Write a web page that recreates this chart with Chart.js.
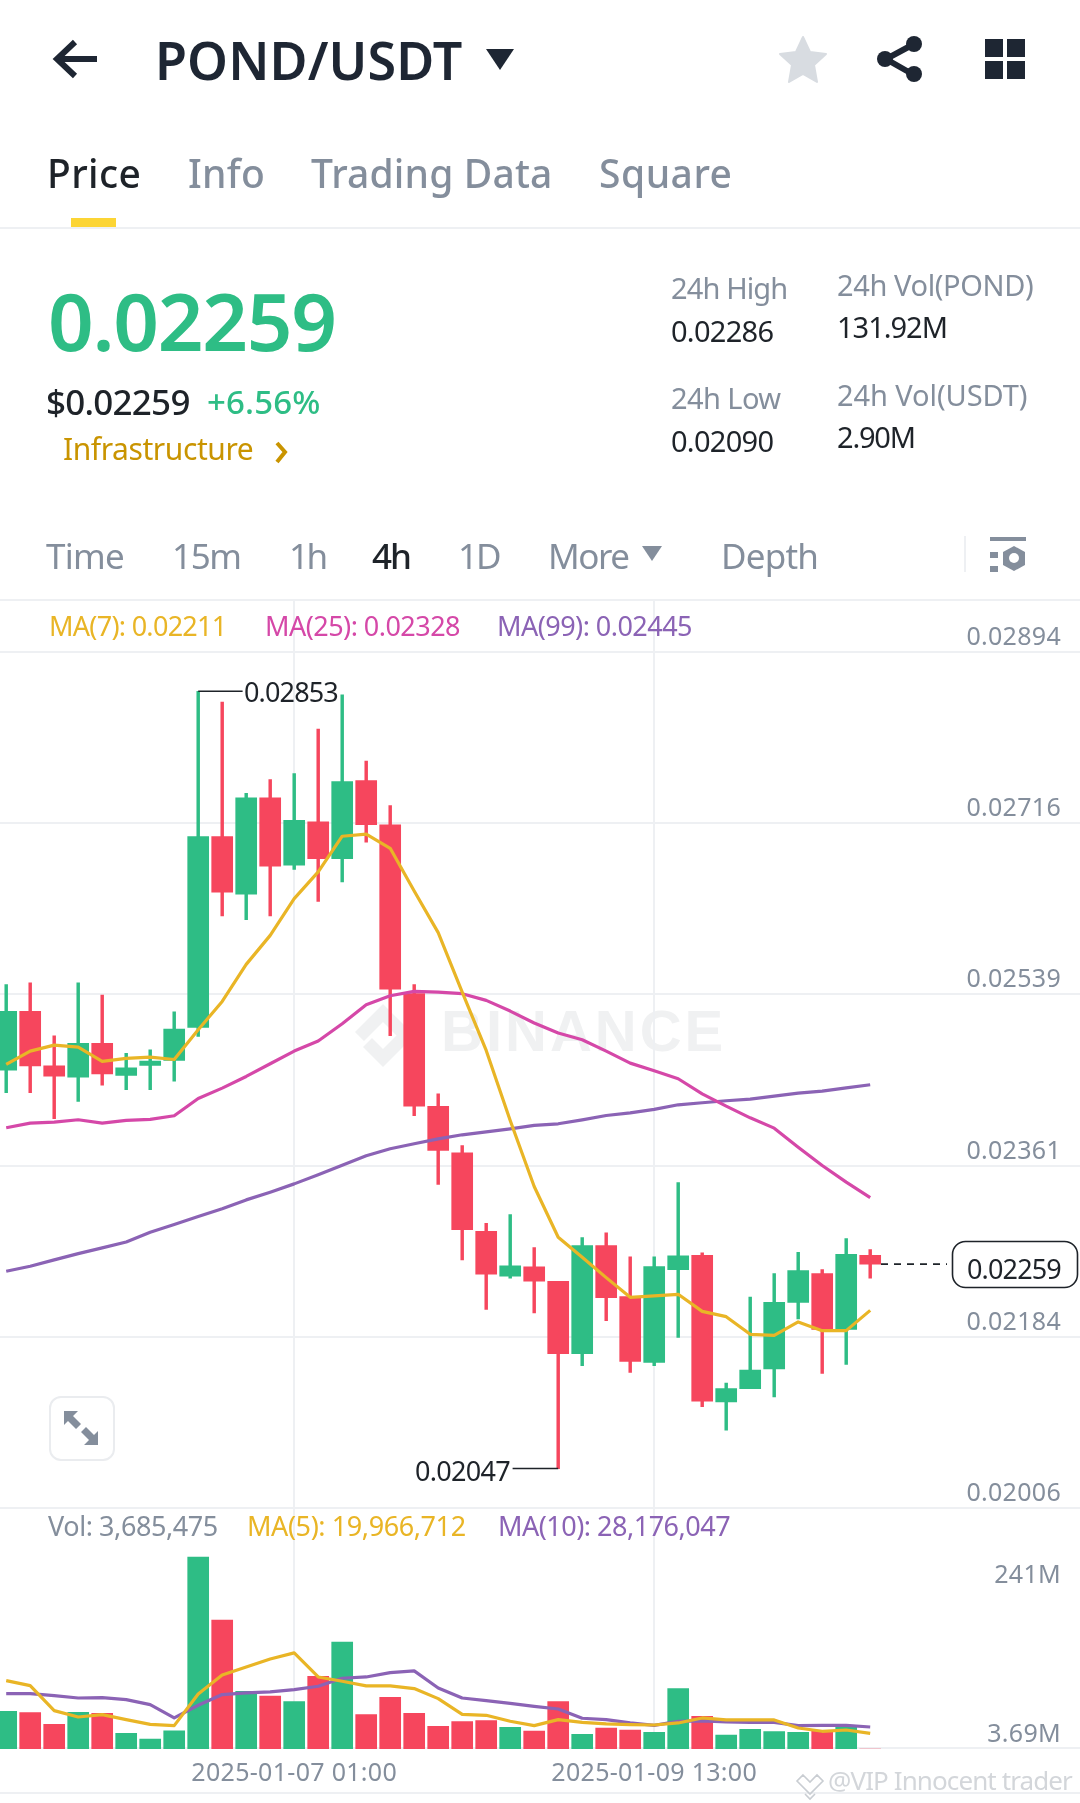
<!DOCTYPE html>
<html><head><meta charset="utf-8">
<style>
html,body{margin:0;padding:0;background:#fff;width:1080px;height:1803px;overflow:hidden;font-family:'Noto Sans',sans-serif}
#wrap{position:relative;width:1080px;height:1803px;overflow:hidden}
.t{position:absolute;white-space:nowrap;line-height:1;transform:translateY(-50%)}
.ln{position:absolute;background:#EEF0F3}
svg{position:absolute;overflow:visible}
canvas{position:absolute;left:0;top:601px}
</style>
<script src="https://cdn.jsdelivr.net/npm/chart.js@4"></script>
</head><body><div id="wrap">
<div class="ln" style="left:0;top:227px;width:1080px;height:2px"></div>
<div class="ln" style="left:0;top:599px;width:1080px;height:2px"></div>
<div class="ln" style="left:0;top:1747px;width:1080px;height:2px"></div>
<div class="ln" style="left:0;top:1792px;width:1080px;height:2px"></div>
<div class="ln" style="left:964px;top:536px;width:2px;height:36px"></div>
<div style="position:absolute;left:71px;top:218px;width:45px;height:9px;background:#FCD535"></div>
<svg style="left:0;top:0" width="1080" height="600">
 <path d="M97 59H58M75 42L57 59L75 76" fill="none" stroke="#1E2633" stroke-width="6"/>
 <path d="M486 49H514L500 70Z" fill="#1E2633"/>
 <path d="M803 37l7 15 16 2-12 11 3 17-14-8-14 8 3-17-12-11 16-2z" fill="#D8DCE1" stroke="#D8DCE1" stroke-width="2" stroke-linejoin="round"/>
 <path d="M914 44L886 59L914 75" fill="none" stroke="#1E2633" stroke-width="6"/>
 <circle cx="914" cy="44" r="8" fill="#1E2633"/><circle cx="885" cy="59" r="8" fill="#1E2633"/><circle cx="914" cy="74" r="8" fill="#1E2633"/>
 <path d="M985 39h18v18h-18zM1007 39h18v18h-18zM985 61h18v18h-18zM1007 61h18v18h-18z" fill="#1E2633"/>
 <path d="M277 443l8 9-8 10" fill="none" stroke="#C99400" stroke-width="4"/>
 <path d="M642 546H662L652 561Z" fill="#848E9C"/>
 <path d="M990 537h36v4h-36zM990 552h8v6h-8zM990 566h8v6h-8z" fill="#848E9C"/>
 <path d="M1014 546l11 6v13l-11 6-11-6v-13z" fill="#848E9C"/><circle cx="1014" cy="558" r="5" fill="#fff"/>
</svg>
<svg style="left:0;top:0" width="1080" height="1200">
 <path d="M355 1032l28-28 32 32-9 9-23-23-19 19zM383 1067l-20-20 9-9 11 11 25-25 9 9z" fill="#F0F1F2"/>
</svg>
<div class="t" id="wm" style="left:441px;top:1030px;font:700 58px 'Liberation Sans',sans-serif;color:#F0F1F2;letter-spacing:3px">BINANCE</div>
<canvas id="c" width="1080" height="1193"></canvas>
<div style="position:absolute;left:49px;top:1396px;width:62px;height:61px;border:2px solid #EAECEF;border-radius:12px;background:#fff"></div>
<svg style="left:0;top:0" width="1080" height="1600">
 <path d="M64 1411h14l-5 5 8 8-5 5-8-8-4 4zM98 1445H84l5-5-8-8 5-5 8 8 4-4z" fill="#848E9C"/>
 <rect x="952.5" y="1241.5" width="125" height="46" rx="13" fill="#fff" stroke="#1E2329" stroke-width="1.6"/>
</svg>
<svg style="left:0;top:0" width="1080" height="1803">
 <path d="M803 1775l7 7 7-7 6 6-13 13-13-13zM810 1799l-5-5 5 5 5-5z" fill="none" stroke="#C9CDD2" stroke-width="1.6"/>
</svg>
</div>
<script>
const times=["2025-01-07 01:00","2025-01-09 13:00"];
const timeIdx=[12,27];
const opens=[.024602,.025211,.024647,.024529,.024879,.024546,.024650,.024702,.025045,.027024,.026425,.027425,.026726,.027176,.026795,.027605,.027144,.025394,.024225,.023744,.022931,.022464,.022561,.022412,.021661,.022782,.022253,.021571,.022533,.022682,.02116,.021298,.021502,.022194,.022492,.021914,.022682];
const highs=[.025488,.025508,.024958,.025508,.025381,.024775,.024813,.025207,.02853,.028418,.027473,.027615,.027677,.028137,.028494,.027805,.027345,.025488,.024356,.02382,.023014,.023104,.022761,.022412,.022865,.022914,.022665,.022665,.023436,.022706,.021357,.022249,.022492,.022713,.022533,.022855,.022741];
const lows=[.024367,.024367,.024097,.024277,.024446,.024398,.024398,.024488,.024951,.0262,.026162,.0262,.026684,.026352,.026553,.026965,.024958,.024128,.023416,.022634,.022121,.022443,.022084,.02047,.021537,.022004,.021467,.021537,.021831,.021111,.020869,.021298,.021212,.022021,.021457,.021551,.022443];
const closes=[.025211,.024644,.02454,.024879,.024561,.024626,.024695,.025027,.027024,.026446,.027425,.026716,.027193,.026795,.027594,.027148,.025442,.024228,.023768,.022948,.022485,.022571,.022412,.021661,.022782,.022242,.021582,.022564,.022675,.02117,.021298,.021492,.022194,.022523,.021914,.022692,.02259];
const ma7=[.024661,.024799,.024861,.02484,.024692,.024723,.024737,.024712,.02502,.025314,.025698,.025999,.02638,.026657,.027027,.027048,.026902,.026459,.026027,.025411,.024806,.02408,.023395,.022869,.022661,.02245,.022246,.02226,.022277,.0221,.022045,.021862,.021851,.02199,.0219,.0219,.02211];
const ma25=[.024004,.024052,.024062,.024087,.024052,.02408,.02409,.024128,.024308,.024415,.024536,.024668,.024799,.024903,.025083,.02528,.025373,.025418,.025411,.025394,.025325,.025214,.02509,.024986,.024917,.024799,.024674,.024595,.024512,.024356,.024228,.024107,.024,.023803,.023612,.02344,.02328];
const ma99=[.022516,.022568,.022634,.022699,.022758,.02282,.022921,.023,.023083,.023163,.023256,.023336,.023422,.023516,.023616,.023713,.023786,.023838,.023889,.023931,.023962,.023993,.024028,.024045,.024086,.024131,.024159,.024194,.024242,.024263,.024284,.024301,.024332,.024363,.024384,.024418,.02445];
const volumes=[50.4,48.6,34.3,49.1,47.9,23.1,16.1,26.3,241,163,75.1,69.3,62.3,93.7,135.8,46.2,67.7,47.9,31.8,37.5,38.7,30.6,26,62.3,21.9,29.7,27.2,24.4,78.3,44.2,21,28.1,25.1,24.4,25.6,30.6,3.69];
const volMa5=[88.3,82.1,51.2,43.3,46.2,40,34.2,32.6,71.8,95.3,105.2,115.1,122.6,92.8,87.5,81.7,81.7,78.4,66,46.6,45.4,38,32.6,40,36.7,34.7,33.8,33.4,35.9,42.1,39.6,39.6,39.6,29.7,25.6,27.2,23.1];
const volMa10=[72.2,72.2,69.7,66.8,67.3,64.8,58.6,42.1,57.8,71,73,74.3,77.2,81.3,91.2,92.8,98.2,100.3,79.2,66.8,63.5,60.2,56.5,53.2,41.7,40,35.9,33,38,38.4,37.1,36.7,36.7,32.6,33,33,30.9];
const priceTicks=[.02894,.027164,.025388,.023612,.021836,.02006];
const volTicks=[241,3.69];
const volTickLabels=["241M","3.69M"];
const highLabel=.02853, lowLabel=.02047, lastPrice=.02259;

const GREEN="#2EBD85",RED="#F6465D",YEL="#E9B526",MAG="#D548A8",PUR="#8B63B5",GRAY="#848E9C",DARK="#1E2329",LINE="#EEF0F3";
const FONT="'Noto Sans'";
const idx=closes.map((_,i)=>i);
const isUp=idx.map(i=>closes[i]>=opens[i]);
const pts=a=>a.map((v,i)=>({x:i,y:v}));
const col=idx.map(i=>isUp[i]?GREEN:RED);
const volCol=[GREEN,RED,RED,GREEN,RED,GREEN,GREEN,GREEN,GREEN,RED,GREEN,RED,GREEN,RED,GREEN,RED,RED,RED,RED,RED,RED,GREEN,RED,RED,GREEN,RED,RED,GREEN,GREEN,RED,GREEN,GREEN,GREEN,GREEN,RED,GREEN,RED];
const line=(data,color,yAxisID,w)=>({type:'line',data,borderColor:color,borderWidth:w||3.2,pointRadius:0,tension:0,yAxisID,order:1,fill:false,borderJoinStyle:'round'});
const perPx=1.03786e-5, volPerPx=1.238;
const flat=s=>{s.width=0;s.paddingTop=0;s.paddingBottom=0;s.paddingLeft=0;s.paddingRight=0};
const flatX=s=>{s.height=45;s.paddingLeft=0;s.paddingRight=0;s.paddingTop=0;s.paddingBottom=0};

new Chart(document.getElementById('c').getContext('2d'),{
 data:{datasets:[
  line(pts(ma7),YEL,'y'),
  line(pts(ma25),MAG,'y'),
  line(pts(ma99),PUR,'y'),
  Object.assign(line([{x:8,y:highLabel},{x:9.85,y:highLabel}],DARK,'y',1.6),{order:0}),
  Object.assign(line([{x:21.1,y:lowLabel},{x:23,y:lowLabel}],DARK,'y',1.6),{order:0}),
  Object.assign(line([{x:36.45,y:lastPrice},{x:39.2,y:lastPrice}],DARK,'y',1.8),{borderDash:[7,6],order:0}),
  {type:'bar',data:idx.map(i=>({x:i,y:[opens[i],closes[i]]})),backgroundColor:col,barThickness:21,grouped:false,order:2,yAxisID:'y'},
  {type:'bar',data:idx.map(i=>({x:i,y:[lows[i],highs[i]]})),backgroundColor:col,barThickness:2.8,grouped:false,order:3,yAxisID:'y'},
  {type:'bar',data:idx.map(i=>({x:i,y:volumes[i]})),backgroundColor:volCol,barThickness:21,grouped:false,order:2,yAxisID:'yv',base:volTicks[1]},
  line(pts(volMa5),YEL,'yv'),
  line(pts(volMa10),PUR,'yv'),
 ]},
 options:{
  responsive:false,animation:false,
  layout:{padding:0},
  plugins:{legend:{display:false},tooltip:{enabled:false},title:{display:false}},
  scales:{
   x:{type:'linear',offset:false,min:-6.2/24,max:(1080-6.2)/24,position:'bottom',afterFit:flatX,
      afterBuildTicks:s=>{s.ticks=timeIdx.map(v=>({value:v}))},
      grid:{color:LINE,lineWidth:2,drawTicks:false,offset:false},border:{display:false},
      ticks:{autoSkip:false,maxRotation:0,padding:10,color:GRAY,font:{family:FONT,size:25},
        callback:v=>times[timeIdx.indexOf(v)]}},
   y:{type:'linear',position:'right',stack:'panes',stackWeight:909,weight:0,afterFit:flat,
      min:.02006-2.7*perPx,max:.02894+50.7*perPx,
      afterBuildTicks:s=>{s.ticks=priceTicks.map(v=>({value:v}))},
      grid:{color:LINE,lineWidth:2,drawTicks:false},border:{display:false},
      ticks:{mirror:true,padding:-19,autoSkip:false,labelOffset:-14,color:GRAY,font:{family:FONT,size:25},
        callback:v=>v.toFixed(5)}},
   yv:{type:'linear',position:'right',stack:'panes',stackWeight:238,weight:1,afterFit:flat,
      min:volTicks[1],max:volTicks[1]+238*volPerPx,
      afterBuildTicks:s=>{s.ticks=volTicks.map(v=>({value:v}))},
      grid:{display:false},border:{display:false},
      ticks:{mirror:true,padding:-19,autoSkip:false,labelOffset:2,color:GRAY,font:{family:FONT,size:25,lineHeight:1.32},
        callback:v=>v===volTicks[0]?['',volTickLabels[0]]:[volTickLabels[1],'']}}
  }
 },
 plugins:[{id:'spacing',beforeDraw(c){c.ctx.letterSpacing='0.3px'}}]
});

const wrap=document.getElementById('wrap');
const texts=[
 ["POND/USDT",155,308,62,52,600,"#1E2633"],
 ["Price",47,94,173,39,500,"#1E2329"],
 ["Info",188,77,173,39,500,GRAY],
 ["Trading Data",311,242,173,39,500,GRAY],
 ["Square",599,134,173,39,500,GRAY],
 ["0.02259",48,288,322,80,600,GREEN],
 ["$0.02259",46,144,402,35,500,"#1E2329"],
 ["+6.56%",207,114,402,33,500,GREEN],
 ["Infrastructure",63,190,450,30,400,"#C99400"],
 ["24h High",671,116,288,29,400,GRAY],
 ["0.02286",671,102,331,29,400,"#1E2329"],
 ["24h Low",671,110,398,29,400,GRAY],
 ["0.02090",671,102,441,29,400,"#1E2329"],
 ["24h Vol(POND)",837,196,285,29,400,GRAY],
 ["131.92M",837,110,327,29,400,"#1E2329"],
 ["24h Vol(USDT)",837,190,395,29,400,GRAY],
 ["2.90M",837,78,437,29,400,"#1E2329"],
 ["Time",46,78,556,35,400,GRAY],
 ["15m",172,69,556,35,400,GRAY],
 ["1h",289,37,556,35,400,GRAY],
 ["4h",372,38,556,35,500,"#1E2329"],
 ["1D",458,42,556,35,400,GRAY],
 ["More",548,80,556,35,400,GRAY],
 ["Depth",721,97,556,35,400,GRAY],
 ["MA(7): 0.02211",49,178,626,27,400,YEL],
 ["MA(25): 0.02328",265,195,626,27,400,MAG],
 ["MA(99): 0.02445",497,195,626,27,400,PUR],
 ["0.02853",244,94,692,27,400,"#1E2329"],
 ["0.02047",415,95,1471,27,400,"#1E2329"],
 ["0.02259",967,94,1269,27,400,"#1E2329"],
 ["Vol: 3,685,475",48,170,1526,27,400,GRAY],
 ["MA(5): 19,966,712",247,219,1526,27,400,YEL],
 ["MA(10): 28,176,047",498,232,1526,27,400,PUR],
 ["@VIP Innocent trader",828,244,1781,26,400,"#D3D6DA"],
];
texts.forEach(([s,x,w,cy,size,weight,color])=>{
 const d=document.createElement('div');d.className='t';d.textContent=s;
 d.style.cssText=`left:${x}px;top:${cy-0.031*size}px;font-size:${size}px;font-weight:${weight};color:${color}`;
 wrap.appendChild(d);
 d.style.letterSpacing=((w-d.offsetWidth)/s.length).toFixed(3)+'px';
});
</script></body></html>
